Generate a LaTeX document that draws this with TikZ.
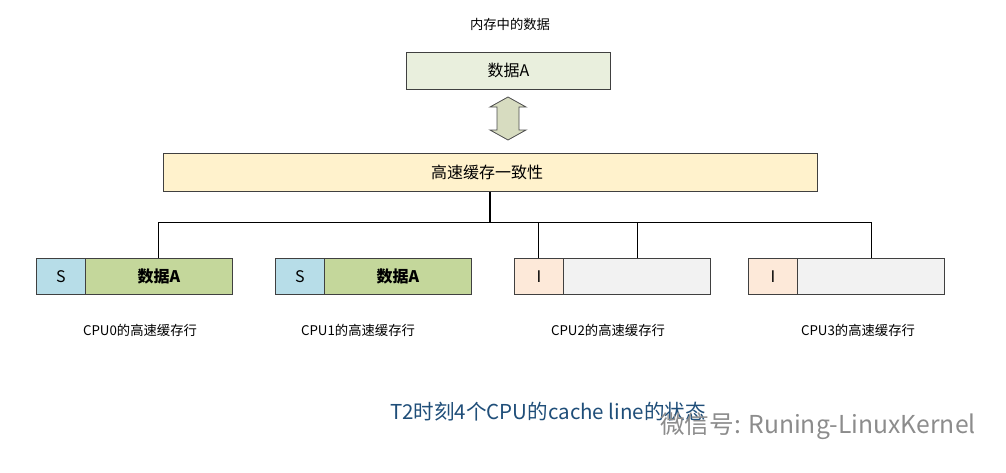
\documentclass[tikz,border=0pt]{standalone}
\usepackage{fontspec}
\setmainfont{Noto Sans CJK SC}
\begin{document}
\begin{tikzpicture}[x=0.75pt,y=-0.75pt,
  bx/.style={draw=black!75,line width=0.6pt,anchor=north west,inner sep=0pt},
  lbl/.style={font=\fontsize{10}{12}\selectfont}]
\useasboundingbox (0,0) rectangle (1006,472);
\definecolor{sb}{RGB}{183,221,232}\definecolor{dg}{RGB}{196,215,155}
\definecolor{si}{RGB}{253,233,217}\definecolor{dx}{RGB}{242,242,242}
\definecolor{memc}{RGB}{233,239,221}\definecolor{cohc}{RGB}{255,242,204}
\definecolor{arrc}{RGB}{215,220,192}
\node[lbl] (title) at (510,24) {内存中的数据};
\node[bx,fill=memc,minimum width=204*0.75pt,minimum height=37*0.75pt,font=\fontsize{12}{14}\selectfont] (mem) at (406,52) {数据A};
\node[bx,fill=cohc,minimum width=654*0.75pt,minimum height=38*0.75pt] (coh) at (163,153) {};
\node[font=\fontsize{12}{14}\selectfont] at (487,172) {高速缓存一致性};
\draw[draw=black!70,fill=arrc,line width=0.6pt] (508,97) -- (526,107) -- (519,107) -- (519,130) -- (526,130) -- (508,140) -- (490,130) -- (497,130) -- (497,107) -- (490,107) -- cycle;
\foreach \i/\x/\sc/\dc/\s/\d in {0/36/sb/dg/S/数据A,1/275/sb/dg/S/数据A,2/514/si/dx/I/{},3/748/si/dx/I/{}}{
  \node[bx,fill=\sc,minimum width=49*0.75pt,minimum height=36*0.75pt,font=\fontsize{12}{14}\selectfont] (s\i) at (\x,258) {\s};
  \node[bx,fill=\dc,minimum width=147*0.75pt,minimum height=36*0.75pt,font=\bfseries\fontsize{12}{14}\selectfont] (d\i) at (\x+49,258) {\d};
}
\node[lbl] (c0) at (140,330) {CPU0的高速缓存行};
\node[lbl] (c1) at (358,330) {CPU1的高速缓存行};
\node[lbl] (c2) at (608,330) {CPU2的高速缓存行};
\node[lbl] (c3) at (858,330) {CPU3的高速缓存行};
\coordinate (j) at (490,222);
\draw[line width=1.2pt] (coh.south west -| j) -- (j);
\draw[line width=0.6pt] (158,222) -- (871,222);
\draw[line width=0.6pt] (158,222) -- (s0.north -| 158,0);
\draw[line width=0.6pt] (538,222) -- (s2.north -| 538,0);
\draw[line width=0.6pt] (637,222) -- (d2.north -| 637,0);
\draw[line width=0.6pt] (871,222) -- (d3.north -| 871,0);
\node[text={rgb,255:red,31;green,78;blue,121},font=\fontsize{15.4}{17}\selectfont] (cap) at (548,412) {T2时刻4个CPU的cache line的状态};
\node[text=black!45,font=\fontsize{18.5}{20}\selectfont] (wm) at (818,426) {微信号: Runing-LinuxKernel};
\end{tikzpicture}
\end{document}
